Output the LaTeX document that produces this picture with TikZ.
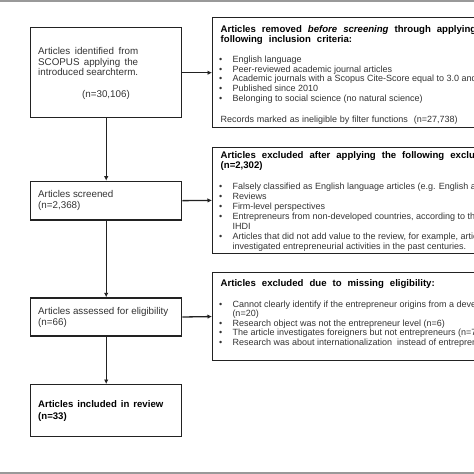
\documentclass[tikz,border=0pt]{standalone}
\usepackage{fontspec}
\setmainfont{Liberation Sans}
\usetikzlibrary{arrows.meta}
\definecolor{txt}{HTML}{333333}
\definecolor{band}{HTML}{999999}
\definecolor{edge}{HTML}{222222}
\begin{document}
\begin{tikzpicture}[x=1pt,y=-1pt,
  box/.style={draw=edge,line width=1.4pt,anchor=north west,inner sep=0pt},
  arr/.style={draw=edge,line width=1.3pt,-{Latex[length=4.5pt,width=4.5pt]}},
  tl/.style={anchor=base west,inner sep=0pt,text=txt,font=\fontsize{9.8}{11}\selectfont},
  tlb/.style={anchor=base west,inner sep=0pt,text=black,font=\fontsize{9.6}{11}\selectfont\bfseries,
    execute at begin node={\spaceskip=4pt\relax}},
  th/.style={anchor=base west,inner sep=0pt,text=black,font=\fontsize{9.6}{10}\selectfont\bfseries,
    execute at begin node={\spaceskip=6pt\relax}},
  bul/.style={anchor=base west,inner sep=0pt,text=txt,font=\fontsize{9}{10}\selectfont}]
\useasboundingbox (0,0) rectangle (474,474);
\clip (0,0) rectangle (474,474);
\fill[band] (0,0) rectangle (474,2);
\fill[band] (0,472) rectangle (474,474);
% left boxes
\node[box,minimum width=151pt,minimum height=90pt] (b1) at (30,27) {};
\node[box,minimum width=151pt,minimum height=38.5pt] (b2) at (30,180.7) {};
\node[box,minimum width=151pt,minimum height=38pt] (b3) at (30,297.3) {};
\node[box,minimum width=151pt,minimum height=51.7pt] (b4) at (30,384) {};
% right boxes
\node[box,minimum width=290pt,minimum height=110pt] (r1) at (212,17) {};
\node[box,minimum width=290pt,minimum height=106pt] (r2) at (212,146.7) {};
\node[box,minimum width=290pt,minimum height=88.3pt] (r3) at (212,271.7) {};
% connectors
\draw[arr] (b1.east) -- (r1.west);
\draw[arr] (b2.east) -- (r2.west);
\draw[arr] (b3.east) -- (r3.west);
\draw[arr] (b1.south) -- (b2.north);
\draw[arr] (b2.south) -- (b3.north);
\draw[arr] (b3.south) -- (b4.north);
% box 1 text
\node[tl] (a1) at (38,54.5) {\makebox[100pt][s]{Articles identified from}};
\node[tl] (a2) at (38,65) {\makebox[100pt][s]{SCOPUS applying the}};
\node[tl] (a3) at (38,75.5) {\makebox[100pt][s]{introduced searchterm.}};
\node[tl,anchor=base] (a4) at (106,97.5) {(n=30,106)};
% box 2
\node[tl] (c1) at (38,197.5) {Articles screened};
\node[tl] (c2) at (38,208.5) {(n=2,368)};
% box 3
\node[tl] (d1) at (38,314.5) {Articles assessed for eligibility};
\node[tl] (d2) at (38,325.8) {(n=66)};
% box 4
\node[tlb] (e1) at (38,407.8) {Articles included in review};
\node[tlb] (e2) at (38,419.5) {(n=33)};
% right box 1
\node[th] (f1) at (220.5,32.8) {Articles removed \textit{before screening} through applying the};
\node[th] (f2) at (220.5,42.8) {following inclusion criteria:};
\foreach \i/\yy/\t in {1/62.3/{English language},2/72/{Peer-reviewed academic journal articles},3/81.7/{Academic journals with a Scopus Cite-Score equal to 3.0 and higher},4/91.3/{Published since 2010},5/101.3/{Belonging to social science (no natural science)}}{
  \node[bul] (fb\i) at (219,\yy) {•};
  \node[bul] (ft\i) at (232.3,\yy) {\t};
}
\node[bul] (f3) at (220.5,122) {\makebox[237pt][s]{Records marked as ineligible by filter functions\hspace{6pt}(n=27,738)}};
% right box 2
\node[th] (g1) at (220.5,158.3) {Articles excluded after applying the following exclusion criteria:};
\node[th] (g2) at (220.5,168.3) {(n=2,302)};
\foreach \i/\yy/\t in {1/189.7/{Falsely classified as English language articles (e.g. English abstract only)},2/199.3/{Reviews},3/209/{Firm-level perspectives},4/219/{Entrepreneurs from non-developed countries, according to the},6/239/{Articles that did not add value to the review, for example, articles that}}{
  \node[bul] (gb\i) at (219,\yy) {•};
  \node[bul] (gt\i) at (232.3,\yy) {\t};
}
\node[bul] (gt5) at (232.3,229) {IHDI};
\node[bul] (gt7) at (232.3,249) {investigated entrepreneurial activities in the past centuries.};
% right box 3
\node[th] (h1) at (220.5,286.6) {Articles excluded due to missing eligibility:};
\foreach \i/\yy/\t in {1/307.3/{Cannot clearly identify if the entrepreneur origins from a developed country},3/326.3/{Research object was not the entrepreneur level (n=6)},4/335.7/{The article investigates foreigners but not entrepreneurs (n=7)},5/345/{Research was about internationalization\ \ instead of entrepreneurship}}{
  \node[bul] (hb\i) at (219,\yy) {•};
  \node[bul] (ht\i) at (232.3,\yy) {\t};
}
\node[bul] (ht2) at (232.3,316.3) {(n=20)};
\end{tikzpicture}
\end{document}
